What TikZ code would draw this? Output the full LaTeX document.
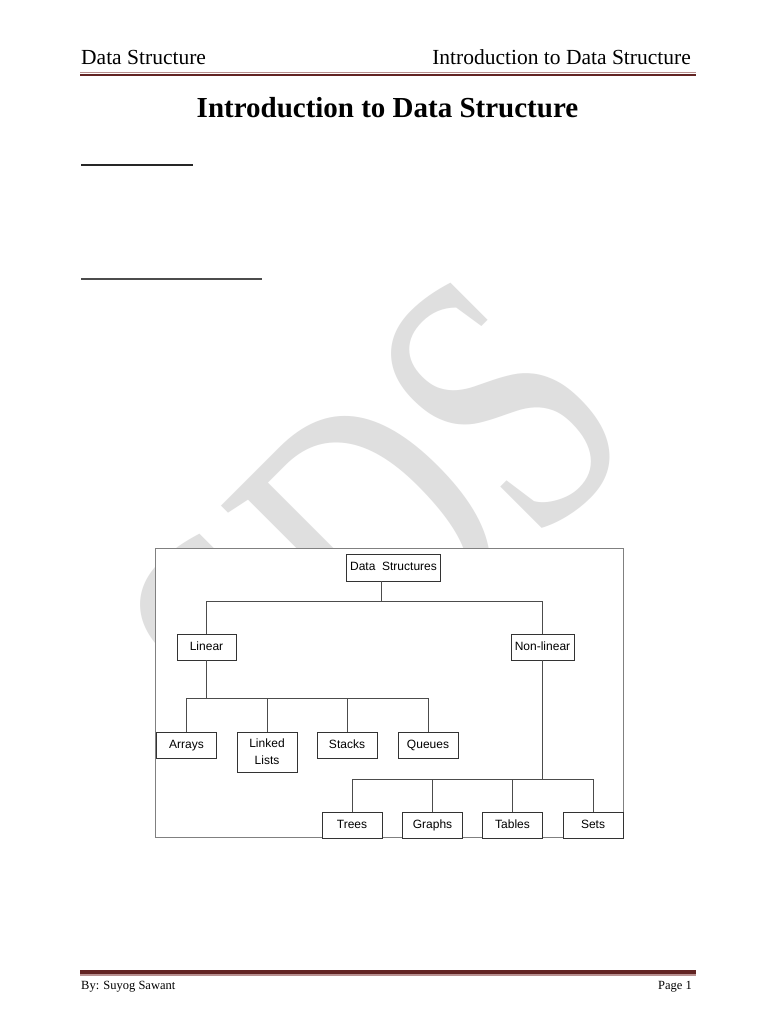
\documentclass[tikz,border=0pt]{standalone}
\usepackage{fontspec}
\setmainfont{Liberation Serif}
\newfontfamily\boxfont{Liberation Sans}
\usetikzlibrary{positioning}
\definecolor{maroondark}{HTML}{622423}
\definecolor{maroonlight}{HTML}{B89090}
\definecolor{wmgray}{HTML}{DFDFDF}
\tikzstyle{block} = [draw=black!80, rectangle, fill=white, text centered, minimum width=60pt, minimum height=26pt, inner sep=3.5pt, text height=9pt, text depth=2.5pt, font=\boxfont\fontsize{12}{17}\selectfont]
\tikzstyle{line} = [draw=black!70, line width=0.9pt]
\tikzstyle{rule} = [line width=2pt, draw=black!85]
\tikzstyle{watermark} = [text=wmgray, inner sep=0pt, font=\fontsize{386}{386}\selectfont]

\begin{document}
\begin{tikzpicture}[x=1pt, y=-1pt]
    \useasboundingbox[fill=white] (0,0) rectangle (768,1024);

    % Page header and footer
    \node [anchor=base west, inner sep=0pt, font=\fontsize{21.5}{21.5}\selectfont] (hleft) at (81,65) {Data Structure};
    \node [anchor=base east, inner sep=0pt, font=\fontsize{21.5}{21.5}\selectfont] (hright) at (691,65) {Introduction to Data Structure};
    \draw [maroonlight, line width=1.5pt] (80,72.5) -- (696,72.5);
    \draw [maroondark, line width=2.5pt] (80,75) -- (696,75);
    \draw [maroondark, line width=3.5pt] (80,972) -- (696,972);
    \draw [maroonlight, line width=1.5pt] (80,975) -- (696,975);
    \node [anchor=base west, inner sep=0pt, font=\fontsize{12.5}{12.5}\selectfont] (author) at (81,989) {By: Suyog Sawant};
    \node [anchor=base east, inner sep=0pt, font=\fontsize{12.5}{12.5}\selectfont] (page) at (692,989) {Page 1};

    % Title and the two underlines
    \node [anchor=base, inner sep=0pt, font=\bfseries\fontsize{29}{29}\selectfont] (title) at (387.5,118) {Introduction to Data Structure};
    \draw [rule] (81,165) -- (193,165);
    \draw [rule, line width=1.5pt, draw=black!70] (81,279) -- (262,279);

    % Watermark behind the figure
    \node [watermark, rotate=45, xscale=0.72] (wm) at (376,530) {SDS};

    % Figure frame
    \draw [draw=black!50, fill=white, line width=0.9pt] (155,548.5) rectangle (623,837.5);

    % Place nodes
    \node [block, minimum width=87pt, minimum height=27pt] (ds) at (393.5,567.5) {Data\ \ Structures};
    \node [block, minimum width=59pt] (linear) at (206.5,647) {Linear};
    \node [block, minimum width=63pt] (nonlinear) at (542.5,647) {Non-linear};
    \node [block, anchor=north] (arrays) at (186.5,732) {Arrays};
    \node [block, anchor=north, minimum height=40pt, align=center, text height=, text depth=] (linked) at (267,732) {Linked\\Lists};
    \node [block, anchor=north] (stacks) at (347,732) {Stacks};
    \node [block, anchor=north] (queues) at (428,732) {Queues};
    \node [block, anchor=north] (trees) at (352,812) {Trees};
    \node [block, anchor=north] (graphs) at (432.5,812) {Graphs};
    \node [block, anchor=north] (tables) at (512.5,812) {Tables};
    \node [block, anchor=north] (sets) at (593,812) {Sets};

    % Bus points
    \coordinate (topbus) at (381,601);
    \coordinate (linbus) at (206.5,698);
    \coordinate (nonbus) at (542.5,779);

    % Draw edges
    \path [line] (ds.south -| topbus) -- (topbus);
    \path [line] (topbus) -| (linear.north);
    \path [line] (topbus) -| (nonlinear.north);
    \path [line] (linear.south) -- (linbus);
    \path [line] (arrays.north) |- (queues.north |- linbus) -- (queues.north);
    \path [line] (linked.north) -- (linked.north |- linbus);
    \path [line] (stacks.north) -- (stacks.north |- linbus);
    \path [line] (nonlinear.south) -- (nonbus);
    \path [line] (trees.north) |- (sets.north |- nonbus) -- (sets.north);
    \path [line] (graphs.north) -- (graphs.north |- nonbus);
    \path [line] (tables.north) -- (tables.north |- nonbus);
\end{tikzpicture}
\end{document}
